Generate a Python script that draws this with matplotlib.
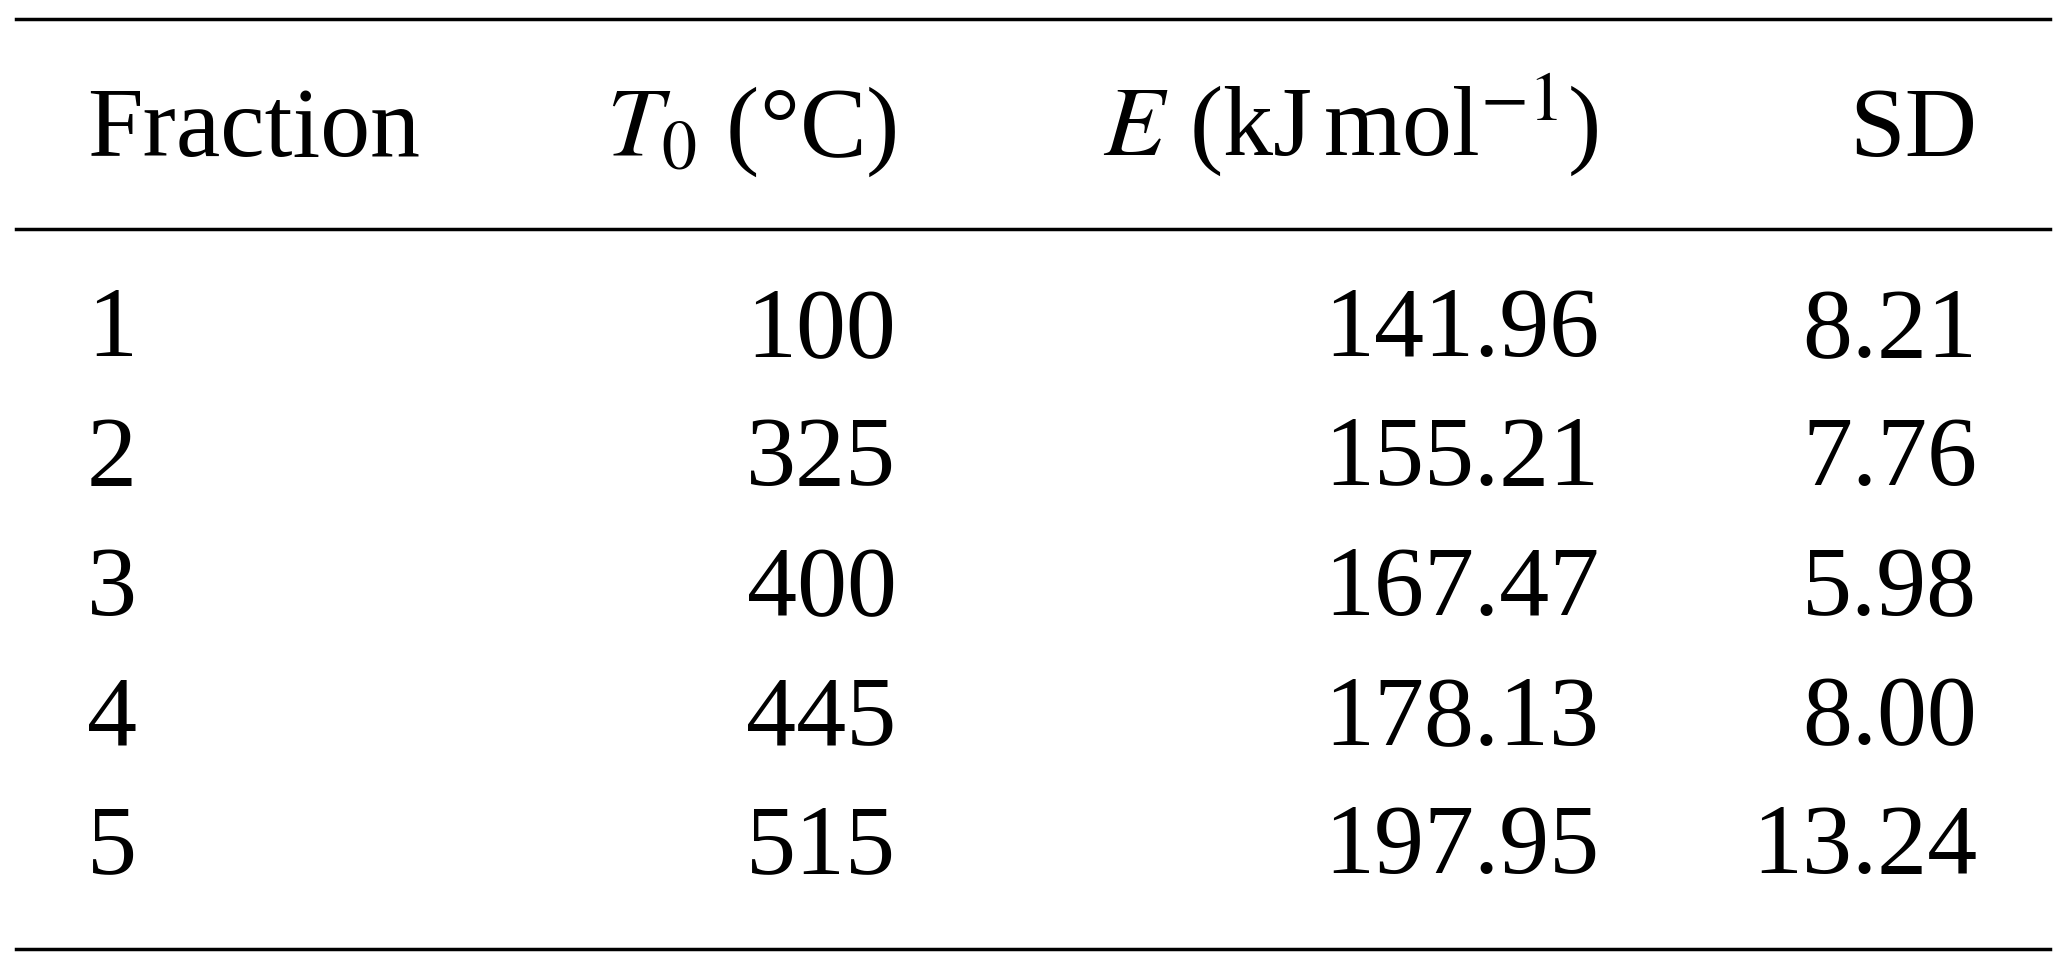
import matplotlib.pyplot as plt

plt.rcParams['font.family'] = ['Liberation Serif', 'DejaVu Serif']
plt.rcParams['mathtext.fontset'] = 'stix'

headers = ['Fraction', r'$T_0$ (°C)', r'$E$ (kJ$\,$mol$^{-1}$)', 'SD']
fractions = ['1', '2', '3', '4', '5']
t0 = ['100', '325', '400', '445', '515']
energy = ['141.96', '155.21', '167.47', '178.13', '197.95']
sd = ['8.21', '7.76', '5.98', '8.00', '13.24']

fig = plt.figure(figsize=(20.67, 9.6), dpi=100)
ax = fig.add_axes([0, 0, 1, 1])
ax.set_xlim(0, 1568)
ax.set_ylim(720, 0)
ax.axis('off')

fs = 72
# column anchors (x, alignment)
cols = [(66, 'left'), (680, 'right'), (1213, 'right'), (1500, 'right')]

for (x, ha), h in zip(cols, headers):
    ax.text(x, 117, h, ha=ha, va='baseline', fontsize=fs)

row_y = [267, 364, 461, 558, 655]
for i, y in enumerate(row_y):
    vals = [fractions[i], t0[i], energy[i], sd[i]]
    for (x, ha), v in zip(cols, vals):
        ax.text(x, y, v, ha=ha, va='baseline', fontsize=fs)

for y in [14, 172, 712]:
    ax.plot([12, 1555], [y, y], color='black', lw=2.5)

fig.savefig('out.png', dpi=100)
